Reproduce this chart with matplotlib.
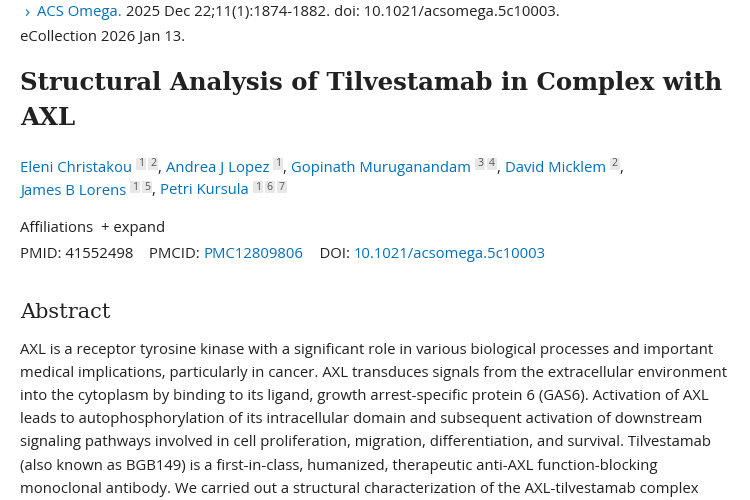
import matplotlib
matplotlib.use("Agg")
import matplotlib.pyplot as plt

W, H = 750, 500
TEXT = "#212121"
LINK = "#0071bc"
SUP_BG = "#e8e8e8"

citation = ["ACS Omega.", " 2025 Dec 22;11(1):1874-1882. doi: 10.1021/acsomega.5c10003."]
ecollection = "eCollection 2026 Jan 13."
title_lines = ["Structural Analysis of Tilvestamab in Complex with", "AXL"]
authors_1 = [("Eleni Christakou", ["1", "2"]), ("Andrea J Lopez", ["1"]),
             ("Gopinath Muruganandam", ["3", "4"]), ("David Micklem", ["2"])]
authors_2 = [("James B Lorens", ["1", "5"]), ("Petri Kursula", ["1", "6", "7"])]
pmid = "41552498"
pmcid = "PMC12809806"
doi = "10.1021/acsomega.5c10003"
abstract = [
    "AXL is a receptor tyrosine kinase with a significant role in various biological processes and important",
    "medical implications, particularly in cancer. AXL transduces signals from the extracellular environment",
    "into the cytoplasm by binding to its ligand, growth arrest-specific protein 6 (GAS6). Activation of AXL",
    "leads to autophosphorylation of its intracellular domain and subsequent activation of downstream",
    "signaling pathways involved in cell proliferation, migration, differentiation, and survival. Tilvestamab",
    "(also known as BGB149) is a first-in-class, humanized, therapeutic anti-AXL function-blocking",
    "monoclonal antibody. We carried out a structural characterization of the AXL-tilvestamab complex",
]

fig = plt.figure(figsize=(W / 100, H / 100), dpi=100)
ax = fig.add_axes([0, 0, 1, 1])
ax.set_xlim(0, W)
ax.set_ylim(H, 0)
ax.axis("off")
fig.canvas.draw()
renderer = fig.canvas.get_renderer()
SANS = ["Open Sans", "DejaVu Sans"]
SERIF = ["DejaVu Serif"]


def put(x, y, s, color=TEXT, size=10.7, **kw):
    t = ax.text(x, y, s, color=color, fontsize=size, family=kw.pop("family", SANS),
                va="center", ha="left", **kw)
    bb = t.get_window_extent(renderer)
    return x + bb.width * W / fig.bbox.width


def author_line(y, items, trailing):
    x = 20
    for i, (name, sups) in enumerate(items):
        x = put(x, y, name, LINK)
        x += 4
        for s in sups:
            ax.add_patch(plt.Rectangle((x, y - 10), 10, 12, color=SUP_BG, lw=0))
            put(x + 2, y - 4, s, "#555555", 7.5)
            x += 12
        if i < len(items) - 1 or trailing:
            x = put(x - 2, y, ", ")


put(24, 13, "›", LINK, 12)
x = put(37, 13, citation[0], LINK)
put(x, 13, citation[1])
put(20, 37, ecollection)
for i, line in enumerate(title_lines):
    put(20, 83 + 35 * i, line, "#212121", 17.6, family=SERIF, fontweight="bold")
author_line(168, authors_1, True)
author_line(191, authors_2, False)
x = put(20, 228, "Affiliations")
put(x + 8, 228, "+ expand")
x = put(20, 254, "PMID: " + pmid + "    PMCID: ")
x = put(x, 254, pmcid, LINK)
x = put(x, 254, "    DOI: ")
put(x, 254, doi, LINK)
put(20, 312, "Abstract", TEXT, 15, family=SERIF)
for i, line in enumerate(abstract):
    put(20, 350 + 23.2 * i, line)

fig.savefig("out.png", dpi=100)
